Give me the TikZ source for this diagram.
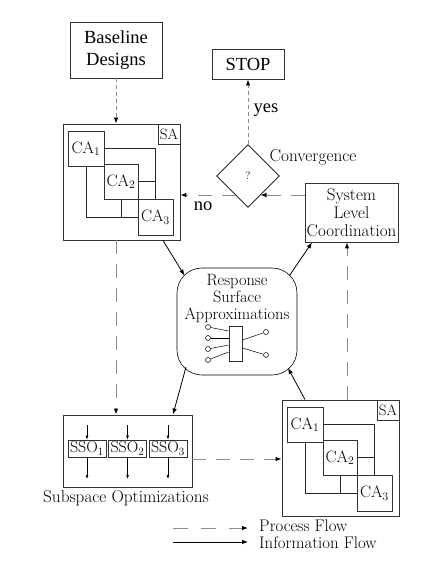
\documentclass[tikz,border=0pt]{standalone}
\usepackage{fontspec}
\newfontfamily\timesfont{Liberation Serif}
\usetikzlibrary{arrows.meta,shapes.geometric,calc}

\tikzset{
  boxline/.style={draw=black!80, line width=0.9pt, inner sep=0pt, rectangle},
  process/.style={draw=black!45, line width=1pt, dash pattern=on 14pt off 10pt, -{Latex[length=6pt,width=4.5pt,black]}},
  fineprocess/.style={draw=black!45, line width=0.8pt, dash pattern=on 4pt off 3pt, -{Latex[length=6pt,width=4.5pt,black]}},
  info/.style={draw=black, line width=0.8pt, -{Latex[length=6pt,width=4.5pt,black]}},
  smallarrow/.style={draw=black, line width=0.6pt, -{Latex[length=4pt,width=3pt]}},
  wire/.style={draw=black!85, line width=0.8pt},
  cmbig/.style={font=\fontsize{17.3}{18}\selectfont},
  cmleg/.style={font=\fontsize{16.8}{18}\selectfont},
  cmca/.style={font=\fontsize{16.5}{18}\selectfont},
  cmmid/.style={font=\fontsize{16.4}{17}\selectfont},
  tbig/.style={font=\timesfont\fontsize{18.5}{22}\selectfont},
}

\newcommand{\mysablock}[2]{%
\begin{scope}[shift={#2}]
  \node[boxline, minimum width=117pt, minimum height=116pt] (#1-box) at (58.5,58) {};
  \node[boxline, minimum width=22pt, minimum height=20pt, font=\fontsize{15}{15}\selectfont] (#1-sa) at (106,10) {SA};
  \node[boxline, minimum width=36pt, minimum height=35pt, cmca] (#1-ca1) at (23,24.5) {CA\textsubscript{1}};
  \node[boxline, minimum width=34pt, minimum height=35pt, cmca] (#1-ca2) at (58,57.5) {CA\textsubscript{2}};
  \node[boxline, minimum width=35pt, minimum height=36pt, cmca] (#1-ca3) at (92.5,93) {CA\textsubscript{3}};
  \draw[wire] (#1-ca1.east) -| (#1-ca3.north);
  \draw[wire] (#1-ca2.east) -- (#1-ca3.north |- #1-ca2.east);
  \draw[wire] (#1-ca1.south) |- (#1-ca3.west);
  \draw[wire] (#1-ca2.south) -- (#1-ca2.south |- #1-ca3.west);
\end{scope}}

\begin{document}
\begin{tikzpicture}[x=1pt,y=-1pt]
\useasboundingbox (0,0) rectangle (432,576);

% top boxes
\node[boxline, minimum width=92pt, minimum height=56pt, tbig, align=center] (base) at (116,50) {Baseline\\Designs};
\node[boxline, minimum width=72pt, minimum height=30pt, tbig] (stop) at (248,64) {STOP};
\node[draw=black!85, line width=0.9pt, diamond, aspect=1, inner sep=0pt, minimum width=63pt, minimum height=63pt, font=\fontsize{11}{11}\selectfont] (dia) at (248,176) {?};
\node[cmbig] (conv) at (313,157) {Convergence};
\node[boxline, minimum width=93pt, minimum height=59pt, align=center, font=\fontsize{17}{18}\selectfont] (slc) at (351.5,212.5) {System\\Level\\Coordination};
\node[tbig] (yes) at (266,110) {yes};
\node[tbig] (no) at (203,206) {no};

% SA blocks
\mysablock{saT}{(63,124)}
\mysablock{saL}{(282,400)}

% Response surface approximations
\node[draw=black, line width=0.6pt, rounded corners=25pt, minimum width=120pt, minimum height=107pt] (rsa) at (237,321.5) {};
\node[cmmid, align=center] (rsat) at (237,298.5) {Response\\Surface\\Approximations};
\node[draw=black!80, line width=0.8pt, minimum width=13pt, minimum height=35pt, inner sep=0pt] (rbox) at (235.5,343.5) {};
\foreach \i/\yy/\ty in {1/327/331, 2/338/338, 3/349/345, 4/360/352}{
  \node[draw=black, line width=0.5pt, circle, minimum size=5pt, inner sep=0pt] (lc\i) at (208,\yy) {};
  \draw[line width=0.5pt] (lc\i) -- (rbox.west |- 0,\ty);
}
\node[draw=black, line width=0.5pt, circle, minimum size=5pt, inner sep=0pt] (rc1) at (266,332) {};
\node[draw=black, line width=0.5pt, circle, minimum size=5pt, inner sep=0pt] (rc2) at (266,355) {};
\draw[line width=0.5pt] (rbox.east |- 0,340) -- (rc1);
\draw[line width=0.5pt] (rbox.east |- 0,348) -- (rc2);

% Subspace optimizations
\node[boxline, minimum width=129pt, minimum height=72pt] (sso) at (127.5,451) {};
\foreach \i/\xx in {1/87, 2/127.5, 3/168}{
  \node[boxline, minimum width=38pt, minimum height=17pt, font=\fontsize{16}{17}\selectfont] (sso\i) at (\xx,448.5) {SSO\textsubscript{\i}};
  \coordinate (si\i) at (\xx,425);
  \coordinate (so\i) at (\xx,479);
  \draw[smallarrow] (si\i) -- (sso\i.north);
  \draw[smallarrow] (sso\i.south) -- (so\i);
}
\node[font=\fontsize{17.2}{18}\selectfont] (ssot) at (126,498) {Subspace Optimizations};

% RSA border points
\coordinate (r1) at (184.5,275.5);
\coordinate (r2) at (289.5,275.5);
\coordinate (r3) at (288,368);
\coordinate (r4) at (186,367);
\coordinate (dR) at (260.5,195);
\coordinate (dL) at (235.5,195);

% process flow
\draw[fineprocess] (base.south) -- (saT-box.north -| base.south);
\draw[fineprocess] (dia.north) -- (stop.south);
\draw[process] (slc.west |- dR) -- (dR);
\draw[process] (dL) -- (saT-box.east |- dL);
\draw[process] (saT-box.south -| base.south) -- (sso.north -| base.south);
\draw[process] (sso.east |- 0,459) -- (saL-box.west |- 0,459);
\draw[process] (saL-box.north -| 347,0) -- (slc.south -| 347,0);

% information flow
\draw[info] (saT-box.south -| 163,0) -- (r1);
\draw[info] (r2) -- (slc.south west -| 312,0);
\draw[info] (saL-box.north -| 305,0) -- (r3);
\draw[info] (r4) -- (sso.north -| 173,0);

% legend
\coordinate (lg1s) at (173,528);
\coordinate (lg1e) at (248,528);
\coordinate (lg2s) at (173,542);
\coordinate (lg2e) at (248,542);
\draw[process, dash pattern=on 15pt off 13pt] (lg1s) -- (lg1e);
\draw[info] (lg2s) -- (lg2e);
\node[cmleg, anchor=west, inner sep=0pt] (lgt1) at (259,526) {Process Flow};
\node[cmleg, anchor=west, inner sep=0pt] (lgt2) at (259,542.5) {Information Flow};
\end{tikzpicture}
\end{document}
